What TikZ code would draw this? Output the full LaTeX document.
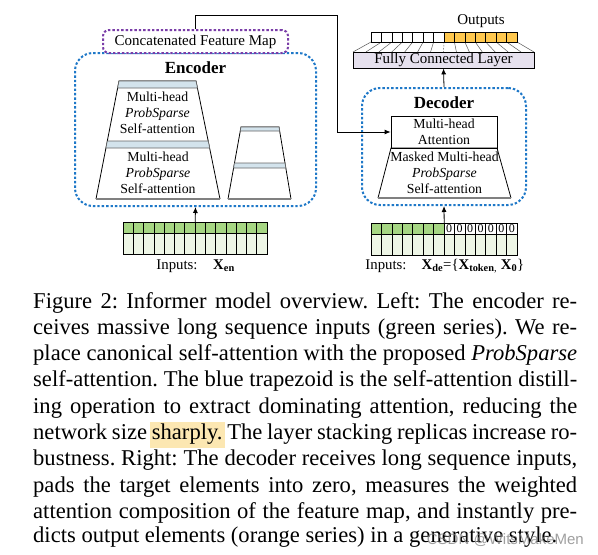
\documentclass[tikz,border=0pt]{standalone}
\usepackage{fontspec}
\setmainfont{Liberation Serif}
\newfontfamily\wmfont{Liberation Sans}
\usetikzlibrary{arrows.meta,calc}
\definecolor{dotblue}{HTML}{1E78C8}
\definecolor{dotpurple}{HTML}{7A3DA8}
\definecolor{bargray}{HTML}{D3E3EC}
\definecolor{gdark}{HTML}{A6D683}
\definecolor{glight}{HTML}{EEF6E6}
\definecolor{orng}{HTML}{FFC84E}
\definecolor{fcfill}{HTML}{E6E1EE}
\definecolor{hl}{HTML}{FCE7B2}
\newcommand\hlword[1]{\makebox[0pt][l]{\hspace*{-2pt}\setlength\fboxsep{2pt}\colorbox{hl}{\rule[-6pt]{0pt}{22pt}\phantom{#1}}}#1}
\frenchspacing
\begin{document}
\begin{tikzpicture}[x=1pt,y=-1pt,
  dotbox/.style={draw=dotblue,line width=2pt,dash pattern=on 2.4pt off 2pt,rounded corners=18pt,inner sep=0pt},
  concatbox/.style={draw=dotpurple,line width=2pt,dash pattern=on 2.4pt off 2pt,rounded corners=6pt,inner sep=0pt,font=\fontsize{15}{17}\selectfont},
  trap/.style={draw=black,line width=0.8pt},
  trapbase/.style={draw=gray,line width=1.8pt},
  bar/.style={fill=bargray,draw=gray!80!black,line width=0.6pt},
  cell/.style={draw=black,line width=0.7pt},
  lbl/.style={font=\fontsize{13.8}{16}\selectfont,align=center,inner sep=0pt},
  ttl/.style={font=\bfseries\fontsize{17}{19}\selectfont,inner sep=0pt},
  inp/.style={font=\fontsize{14.8}{16}\selectfont,inner sep=0pt},
  arr/.style={draw=black,line width=0.8pt,-{Latex[length=6pt,width=5pt]}},
  fan/.style={draw=gray!70!black,line width=0.5pt},
  captxt/.style={font=\fontsize{22.6}{26}\selectfont,anchor=base west,inner sep=0pt}]
\useasboundingbox (0,0) rectangle (598,555);
\fill[white] (0,0) rectangle (598,555);

% ---------- Encoder ----------
\node[dotbox,minimum width=241pt,minimum height=153pt] (enc) at (195.5,129.5) {};
\node[concatbox,minimum width=185pt,minimum height=23pt,fill=white] (concat) at (195.5,41.5) {Concatenated Feature Map};
\node[ttl] (enctitle) at (195.5,68) {Encoder};

% big stack
\draw[trap] (96,199) -- (119,81) -- (196,81) -- (220,199);
\draw[bar] (119,81) -- (196,81) -- (197.42,88) -- (117.64,88) -- cycle;
\draw[bar] (107.31,141) -- (208.2,141) -- (209.63,148) -- (105.94,148) -- cycle;
\draw[trapbase] (96,199) -- (220,199);
\node[lbl] (encA) at (157.5,113) {Multi-head\\\textit{ProbSparse}\\Self-attention};
\node[lbl] (encB) at (158,173) {Multi-head\\\textit{ProbSparse}\\Self-attention};

% small replica
\draw[trap] (228,199) -- (241,127) -- (279,127) -- (291,199);
\draw[bar] (241,127) -- (279,127) -- (279.67,131) -- (240.28,131) -- cycle;
\draw[bar] (234.5,163) -- (285,163) -- (285.83,168) -- (233.6,168) -- cycle;
\draw[trapbase] (228,199) -- (291,199);

% encoder input
\node[minimum width=144pt,minimum height=32pt,inner sep=0pt,anchor=north west] (ein) at (123,222) {};
\foreach \i in {0,...,13}{
  \draw[cell,fill=gdark] ({123+\i*144/14},222) rectangle ++(144/14,11);
  \draw[cell,fill=glight] ({123+\i*144/14},233) rectangle ++(144/14,21);
}
\node[inp] (einl) at (177,266) {Inputs:};
\node[inp] (einx) at (224,266) {\textbf{X}\textsubscript{\textbf{en}}};
\draw[arr] (ein.north) -- (enc.south);

% ---------- Decoder ----------
\node[dotbox,minimum width=164pt,minimum height=117pt] (dec) at (444,146.5) {};
\node[ttl] (dectitle) at (444,103) {Decoder};
\node[draw,line width=0.8pt,minimum width=106pt,minimum height=32pt,fill=white,lbl] (mha) at (444,132) {Multi-head\\Attention};
\draw[trap] (378,198) -- (391,148) -- (497,148) -- (511,198);
\draw[trapbase] (378,198) -- (511,198);
\node[lbl] (mask) at (444.5,173) {Masked Multi-head\\\textit{ProbSparse}\\Self-attention};

% fully connected + outputs
\node[draw,line width=0.8pt,fill=fcfill,minimum width=181pt,minimum height=16pt,inner sep=0pt,font=\fontsize{15}{17}\selectfont] (fc) at (443.5,60) {Fully Connected Layer};
\node[minimum width=146pt,minimum height=10pt,inner sep=0pt,anchor=north west] (out) at (371,32) {};
\foreach \i in {0,...,14}{
  \ifnum\i=7
    \draw[fan,dash pattern=on 1.5pt off 1.5pt] ({371+\i*146/14},42) -- ({353+\i*181/14},52);
  \else
    \draw[fan] ({371+\i*146/14},42) -- ({353+\i*181/14},52);
  \fi
}
\foreach \i in {0,...,6}{
  \draw[cell,fill=white] ({371+\i*146/14},32) rectangle ++(146/14,10);
}
\foreach \i in {7,...,13}{
  \draw[cell,fill=orng] ({371+\i*146/14},32) rectangle ++(146/14,10);
}
\node[font=\fontsize{15}{17}\selectfont,inner sep=0pt] (outl) at (481,21) {Outputs};
\draw[arr] (dec.north) -- (fc.south);

% decoder input
\node[minimum width=146pt,minimum height=32pt,inner sep=0pt,anchor=north west] (din) at (371,223) {};
\foreach \i in {0,...,13}{
  \ifnum\i<7
    \draw[cell,fill=gdark] ({371+\i*146/14},223) rectangle ++(146/14,11);
  \else
    \draw[cell,fill=white] ({371+\i*146/14},223) rectangle ++(146/14,11);
    \node[font=\fontsize{12}{12}\selectfont,inner sep=0pt] at ({371+(\i+0.5)*146/14},228.8) {0};
  \fi
  \draw[cell,fill=glight] ({371+\i*146/14},234) rectangle ++(146/14,21);
}
\node[inp] (dinl) at (386,266) {Inputs:};
\node[inp] (dinx) at (473,266) {\textbf{X}\textsubscript{\textbf{de}}=\{\textbf{X}\textsubscript{\textbf{token},} \textbf{X}\textsubscript{\textbf{0}}\}};
\draw[arr] (din.north) -- (dec.south);

% concat -> decoder attention
\coordinate (tA) at (337,15);
\draw[arr] (concat.north) |- (tA) |- (mha.west);

% ---------- Caption ----------
\node[captxt] (c1) at (33,308) {\makebox[544pt][s]{Figure 2: Informer model overview. Left: The encoder re-}};
\node[captxt] (c2) at (33,334.3) {\makebox[544pt][s]{ceives massive long sequence inputs (green series). We re-}};
\node[captxt] (c3) at (33,360.6) {\makebox[544pt][s]{place canonical self-attention with the proposed \textit{ProbSparse}}};
\node[captxt] (c4) at (33,386.9) {\makebox[544pt][s]{self-attention. The blue trapezoid is the self-attention distill-}};
\node[captxt] (c5) at (33,413.2) {\makebox[544pt][s]{ing operation to extract dominating attention, reducing the}};
\node[captxt] (c6) at (33,439.5) {\makebox[544pt][s]{network size \hlword{sharply.} The layer stacking replicas increase ro-}};
\node[captxt] (c7) at (33,465.8) {\makebox[544pt][s]{bustness. Right: The decoder receives long sequence inputs,}};
\node[captxt] (c8) at (33,492.1) {\makebox[544pt][s]{pads the target elements into zero, measures the weighted}};
\node[captxt] (c9) at (33,518.4) {\makebox[544pt][s]{attention composition of the feature map, and instantly pre-}};
\node[captxt] (c10) at (33,542.5) {dicts output elements (orange series) in a generative style.};
\node[font=\wmfont\fontsize{15}{17}\selectfont,text=gray,opacity=0.75,anchor=east,inner sep=0pt] (wm) at (584,540) {CSDN @WitsMakeMen};
\end{tikzpicture}
\end{document}
